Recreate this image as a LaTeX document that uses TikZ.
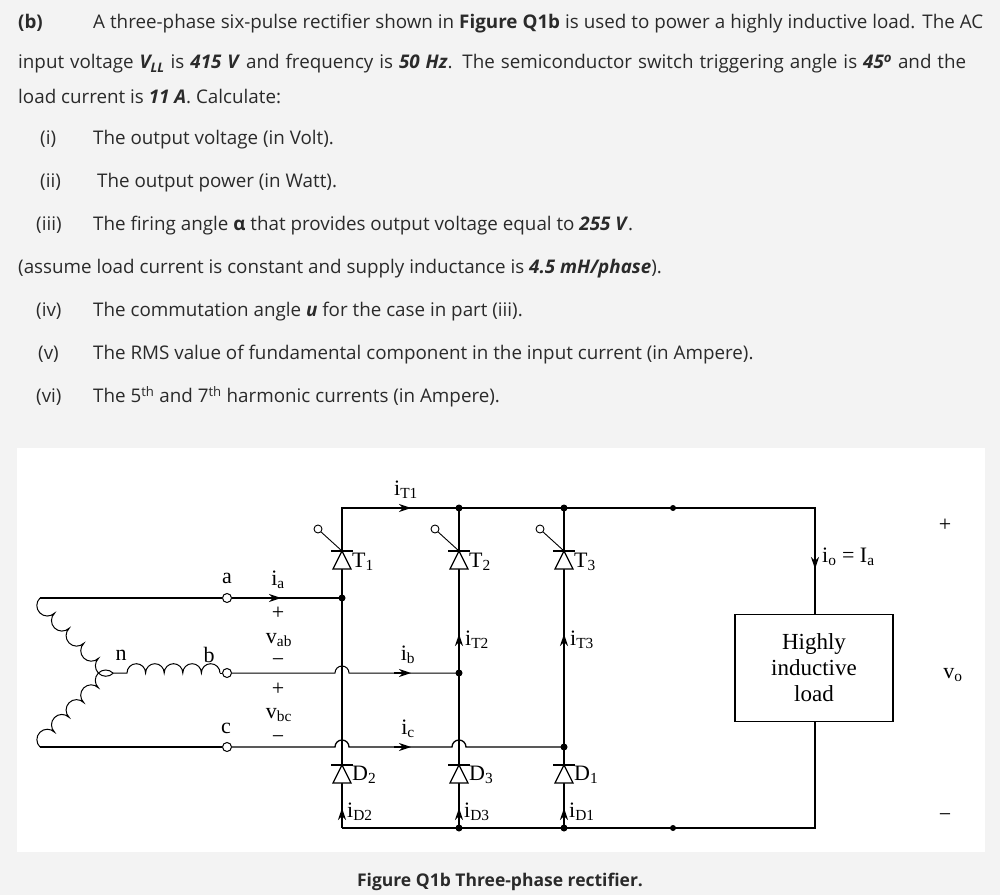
\documentclass[tikz,border=0pt]{standalone}
\usepackage{fontspec}
\setmainfont{Open Sans}
\newfontfamily\ser{Liberation Serif}
\usetikzlibrary{arrows.meta}
\definecolor{pagebg}{HTML}{F3F3F3}
\definecolor{txt}{HTML}{2A2A2A}
\begin{document}
\begin{tikzpicture}[x=1pt,y=1pt,
  qline/.style={anchor=base west,inner sep=0,text=txt,font=\fontsize{18.8}{22}\selectfont},
  lab/.style={inner sep=0,font=\ser\fontsize{22}{24}\selectfont},
  wire/.style={line width=1.3pt},
  term/.style={circle,draw,line width=1pt,fill=white,inner sep=0,minimum size=9pt},
  dot/.style={circle,fill,inner sep=0,minimum size=7pt},
  arr/.style={-{Stealth[length=12pt,width=8pt]},line width=1.3pt},
  thy/.pic={\draw[fill=white,line width=1.3pt] (-9,-18)--(9,-18)--(0,0)--cycle; \draw[line width=2.4pt](-11,0)--(11,0);},
  gate/.pic={\draw[line width=0.9pt] (0,0)--(-22,20); \node[circle,draw,line width=0.9pt,fill=white,inner sep=0,minimum size=8pt] at (-24,22){};}]
\useasboundingbox (0,0) rectangle (1000,895);
\fill[pagebg] (0,0) rectangle (1000,895);
\fill[white] (17,43) rectangle (985,447);
% text
\node[qline] (l1) at (18,866) {\textbf{(b)}};
\node[qline] (l1b) at (93,866) {\makebox[890pt][s]{A three-phase six-pulse rectifier shown in \textbf{Figure Q1b} is used to power a highly inductive load. The AC}};
\node[qline] (l2) at (18,826) {\makebox[948pt][s]{input voltage \textbf{\textit{V\textsubscript{LL}}} is \textbf{\textit{415 V}} and frequency is \textbf{\textit{50 Hz}}. The semiconductor switch triggering angle is \textbf{\textit{45\textsuperscript{o}}} and the}};
\node[qline] (l3) at (18,791) {load current is \textbf{\textit{11 A}}. Calculate:};
\node[qline] (n1) at (40,750) {(i)};
\node[qline] (t1) at (93,750) {The output voltage (in Volt).};
\node[qline] (n2) at (40,707) {(ii)};
\node[qline] (t2) at (97,707) {The output power (in Watt).};
\node[qline] (n3) at (36,664) {(iii)};
\node[qline] (t3) at (93,664) {The firing angle \textbf{α} that provides output voltage equal to \textbf{\textit{255 V}}.};
\node[qline] (l4) at (18,621) {(assume load current is constant and supply inductance is \textbf{\textit{4.5 mH/phase}}).};
\node[qline] (n4) at (36,578) {(iv)};
\node[qline] (t4) at (93,578) {The commutation angle \textbf{\textit{u}} for the case in part (iii).};
\node[qline] (n5) at (38,535) {(v)};
\node[qline] (t5) at (93,535) {The RMS value of fundamental component in the input current (in Ampere).};
\node[qline] (n6) at (36,492) {(vi)};
\node[qline] (t6) at (93,492) {The 5\textsuperscript{th} and 7\textsuperscript{th} harmonic currents (in Ampere).};
\node[qline,anchor=base,font=\fontsize{17.5}{20}\selectfont] (cap) at (500,9) {\textbf{Figure Q1b Three-phase rectifier.}};
% coordinates
\coordinate (TL) at (342,387); \coordinate (BL) at (342,67);
\coordinate (TM) at (459,387); \coordinate (BM) at (459,67);
\coordinate (TR) at (564,387); \coordinate (BR) at (564,67);
\coordinate (TD) at (673,387); \coordinate (BD) at (673,67);
\coordinate (TO) at (815,387); \coordinate (BO) at (815,67);
\coordinate (n) at (113,222);
\coordinate (wa) at (40,297); \coordinate (wc) at (40,148);
% rails and columns
\draw[wire] (BL)--(TL)--(TO)--(815,280);
\draw[wire] (815,173)--(BO)--(BL);
\draw[wire] (TM)--(BM); \draw[wire] (TR)--(BR);
\node[draw,line width=1.3pt,minimum width=158pt,minimum height=107pt,align=center,font=\ser\fontsize{23}{26}\selectfont] (load) at (814,227) {Highly\\inductive\\load};
% coils
\draw[line width=1pt,shift={(40,297)},rotate=-45.8] (0,0) foreach \i in {1,...,5}{ arc[start angle=180,end angle=360,radius=10.5] };
\draw[line width=1pt,shift={(113,222)},rotate=225.4] (0,0) foreach \i in {1,...,5}{ arc[start angle=180,end angle=360,radius=10.4] };
\draw[line width=1pt] (n)--(127,222) foreach \i in {1,...,5}{ arc[start angle=180,end angle=0,radius=9.3] };
% phase lines
\node[term] (ta) at (227,297) {};
\node[term] (tb) at (227,222) {};
\node[term] (tc) at (227,148) {};
\draw[wire] (wa)--(ta) (ta)--(342,297);
\draw[wire] (wc)--(tc);
\draw[line width=1pt] (220,222)--(tb);
\draw[line width=1pt] (tb)--(335,222) arc[start angle=180,end angle=0,radius=7]--(459,222);
\draw[wire] (tc)--(335,148) arc[start angle=180,end angle=0,radius=7]--(452,148) arc[start angle=180,end angle=0,radius=7]--(564,148);
% dots
\node[dot] at (342,297){}; \node[dot] at (459,387){}; \node[dot] at (459,222){};
\node[dot] at (564,387){}; \node[dot] at (564,148){};
\node[dot] at (459,67){}; \node[dot] at (564,67){};
\node[dot,minimum size=6pt] at (TD){}; \node[dot,minimum size=6pt] at (BD){};
% devices
\foreach \x in {342,459,564}{ \pic at (\x,344){thy}; \pic at (\x,344){gate}; \pic at (\x,130){thy}; }
% arrows
\draw[arr] (394,387)--(411,387);
\draw[arr] (264,297)--(281,297);
\draw[arr] (394,222)--(411,222);
\draw[arr] (394,148)--(411,148);
\draw[arr] (459,245)--(459,261);
\draw[arr] (564,245)--(564,261);
\foreach \x in {342,459,564}{ \draw[arr] (\x,70)--(\x,87); }
\draw[arr] (815,343)--(815,326);
% labels
\node[lab] at (406,405) {i\textsubscript{T1}};
\node[lab] at (227,317) {a};
\node[lab] at (278,315) {i\textsubscript{a}};
\node[lab] at (278,282) {+};
\node[lab] at (279,255) {v\textsubscript{ab}};
\node[lab] at (278,232) {−};
\node[lab] at (278,206) {+};
\node[lab] at (279,180) {v\textsubscript{bc}};
\node[lab] at (278,155) {−};
\node[lab] at (121,240) {n};
\node[lab] at (209,240) {b};
\node[lab] at (226,167) {c};
\node[lab,anchor=west] at (352,333) {T\textsubscript{1}};
\node[lab,anchor=west] at (469,333) {T\textsubscript{2}};
\node[lab,anchor=west] at (574,333) {T\textsubscript{3}};
\node[lab,anchor=west] at (465,255) {i\textsubscript{T2}};
\node[lab,anchor=west] at (570,255) {i\textsubscript{T3}};
\node[lab] at (408,240) {i\textsubscript{b}};
\node[lab] at (408,166) {i\textsubscript{c}};
\node[lab,anchor=west] at (352,120) {D\textsubscript{2}};
\node[lab,anchor=west] at (469,120) {D\textsubscript{3}};
\node[lab,anchor=west] at (574,120) {D\textsubscript{1}};
\node[lab,anchor=west] at (347,83) {i\textsubscript{D2}};
\node[lab,anchor=west] at (464,83) {i\textsubscript{D3}};
\node[lab,anchor=west] at (569,83) {i\textsubscript{D1}};
\node[lab,anchor=west] at (822,338) {i\textsubscript{o} = I\textsubscript{a}};
\node[lab] at (945,370) {+};
\node[lab] at (953,220) {v\textsubscript{o}};
\node[lab] at (945,77) {−};
\end{tikzpicture}
\end{document}
